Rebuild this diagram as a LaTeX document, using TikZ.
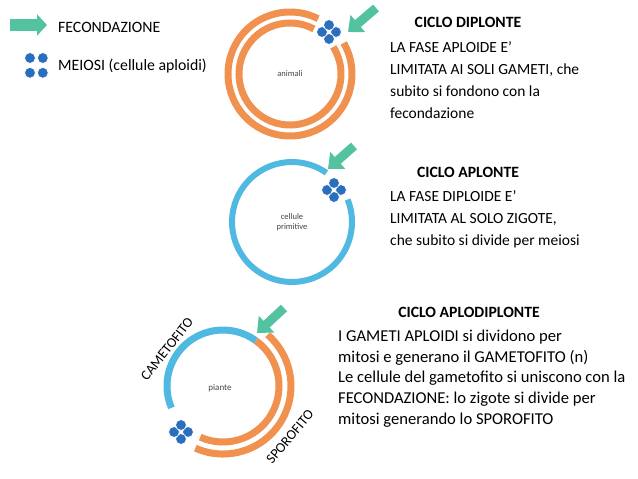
\documentclass[tikz,border=0pt]{standalone}
\usepackage{fontspec}
\setmainfont{Carlito}
\usetikzlibrary{arrows.meta,positioning}
\definecolor{ringorange}{HTML}{F0914F}
\definecolor{ringblue}{HTML}{4FB9E1}
\definecolor{dotblue}{HTML}{2A6EBE}
\definecolor{arrowgreen}{HTML}{52C2A0}
\definecolor{labelgray}{HTML}{444444}
\tikzset{
    ring/.style={line width=7pt},
    spore/.style={circle,fill=dotblue,draw=white,line width=0.8pt,minimum size=11pt,inner sep=0pt},
    fecarrow/.style={draw=arrowgreen,line width=9pt,-{Triangle[width=22pt,length=13pt]}},
    cycletitle/.style={font=\bfseries\fontsize{15.7}{18}\selectfont},
    cycletext/.style={align=left,anchor=north west,inner sep=0pt,font=\fontsize{15.5}{22}\selectfont},
    legendtext/.style={anchor=west,inner sep=0pt,font=\fontsize{15.8}{18}\selectfont},
    inlabel/.style={align=center,text=labelgray,font=\fontsize{8.5}{9.5}\selectfont},
    stagelabel/.style={font=\fontsize{14}{16}\selectfont},
}

\begin{document}
\begin{tikzpicture}[x=1pt,y=-1pt]
\useasboundingbox (0,0) rectangle (638,479);
\coordinate (legtail) at (10,25);
\coordinate (legtip) at (47,25);
\draw[fecarrow,line width=12pt,-{Triangle[width=21pt,length=10pt]}] (legtail) -- (legtip);
\node[legendtext] (legfec) at (58,27) {FECONDAZIONE};
\node[spore] (m1) at (30,58) {};
\node[spore,right=1pt of m1] (m2) {};
\node[spore,below=3pt of m1] (m3) {};
\node[spore,right=1pt of m3] (m4) {};
\node[legendtext] (legmei) at (58,66) {MEIOSI (cellule aploidi)};

\coordinate (c1) at (290,74);
\draw[ring,draw=ringorange] ([shift={(-63:62)}]c1) arc[start angle=-63,end angle=-390,radius=62];
\draw[ring,draw=ringorange] ([shift={(-62:51)}]c1) arc[start angle=-62,end angle=-392,radius=51];
\node[inlabel] (animali) at (c1) {animali};
\coordinate (k1) at (329,32);
\foreach \a in {0,90,180,270} \node[spore] (k1-\a) at ([shift={(\a:7)}]k1) {};
\coordinate (f1tail) at (376,8);
\coordinate (f1tip) at (348,32);
\draw[fecarrow] (f1tail) -- (f1tip);
\node[cycletitle] (t1) at (468,22) {CICLO DIPLONTE};
\node[cycletext] (p1) at (390,41) {LA FASE APLOIDE E’\\LIMITATA AI SOLI GAMETI, che\\subito si fondono con la\\fecondazione};

\coordinate (c2) at (292,222);
\draw[ring,line width=6pt,draw=ringblue] ([shift={(-55:60)}]c2) arc[start angle=-55,end angle=-382,radius=60];
\node[inlabel] (cellule) at (c2) {cellule\\primitive};
\coordinate (k2) at (334,190);
\foreach \a in {0,90,180,270} \node[spore] (k2-\a) at ([shift={(\a:7)}]k2) {};
\coordinate (f2tail) at (354,146);
\coordinate (f2tip) at (328,169);
\draw[fecarrow] (f2tail) -- (f2tip);
\node[cycletitle] (t2) at (468,172) {CICLO APLONTE};
\node[cycletext] (p2) at (390,190) {LA FASE DIPLOIDE E’\\LIMITATA AL SOLO ZIGOTE,\\che subito si divide per meiosi};

\coordinate (c3) at (223,386);
\draw[ring,draw=ringblue] ([shift={(-54:56)}]c3) arc[start angle=-54,end angle=-203,radius=56];
\draw[ring,draw=ringorange] ([shift={(114:56)}]c3) arc[start angle=114,end angle=-54,radius=56];
\draw[ring,draw=ringorange] ([shift={(114:68)}]c3) arc[start angle=114,end angle=-49,radius=68];
\node[inlabel,font=\fontsize{9}{10}\selectfont] (piante) at (220,388) {piante};
\coordinate (k3) at (181,432);
\foreach \a in {0,90,180,270} \node[spore] (k3-\a) at ([shift={(\a:7)}]k3) {};
\coordinate (f3tail) at (284,308);
\coordinate (f3tip) at (257,333);
\draw[fecarrow] (f3tail) -- (f3tip);
\node[stagelabel,rotate=52] (gameto) at (167,349) {CAMETOFITO};
\node[stagelabel,rotate=50] (sporo) at (290,437) {SPOROFITO};
\node[cycletitle] (t3) at (469,312) {CICLO APLODIPLONTE};
\node[cycletext,font=\fontsize{16.6}{20.8}\selectfont] (p3) at (338,329.5) {I GAMETI APLOIDI si dividono per\\mitosi e generano il GAMETOFITO (n)\\Le cellule del gametofito si uniscono con la\\FECONDAZIONE: lo zigote si divide per\\mitosi generando lo SPOROFITO};
\end{tikzpicture}
\end{document}
